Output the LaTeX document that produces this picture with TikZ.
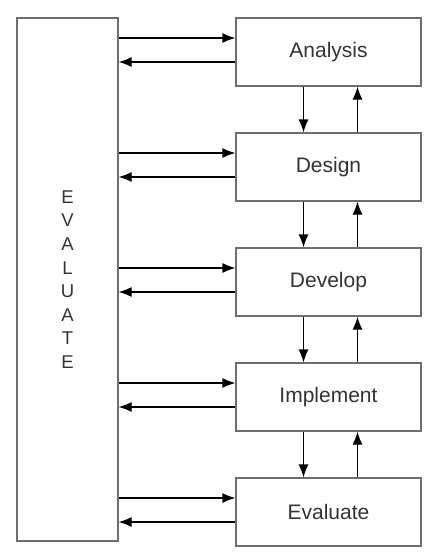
\documentclass[tikz,border=0pt]{standalone}
\usepackage{fontspec}
\setmainfont{Liberation Sans}
\usepackage{tikz}
\usetikzlibrary{arrows.meta}
\usetikzlibrary{calc}
\definecolor{linegray}{HTML}{6E6E6E}
\definecolor{textgray}{HTML}{333333}
\newcommand{\stagedistance}{115}
\tikzstyle{stage}=[
  draw=linegray,
  line width=1.2pt,
  minimum width=185pt,
  minimum height=68pt,
  inner sep=0pt,
  text=textgray,
  font=\fontsize{21}{25}\selectfont
]
\tikzstyle{flow}=[
  -{Latex[length=13pt,width=10pt]},
  line width=1.2pt
]
\newcommand{\linkstage}[1]{{
  \newcommand{\stagename}{#1}

  \draw[flow] ($(evalbox.east |- \stagename) + (0, -14)$) -- ($(\stagename.west) + (0, -14)$);
  \draw[flow] ($(\stagename.west) + (0, 10)$) -- ($(evalbox.east |- \stagename) + (0, 10)$);
}}
\newcommand{\linkdown}[2]{{
  \newcommand{\stageabove}{#1}
  \newcommand{\stagebelow}{#2}

  \draw[flow] ($(\stageabove.south) + (-25, 0)$) -- ($(\stagebelow.north) + (-25, 0)$);
  \draw[flow] ($(\stagebelow.north) + (29, 0)$) -- ($(\stageabove.south) + (29, 0)$);
}}
\begin{document}
\begin{tikzpicture}[x=1pt, y=-1pt]
      \useasboundingbox (0, 0) rectangle (440, 560);

      \node[draw=linegray, line width=1.2pt, minimum width=101pt, minimum height=523pt,
            inner sep=0pt, align=center, text=textgray,
            font=\fontsize{18.5}{23.6}\selectfont] (evalbox) at (67.5, 279.5)
            {E\\V\\A\\L\\U\\A\\T\\E};

      \node[stage] (s1) at (328.5, 52)                    {Analysis};
      \node[stage] (s2) at (328.5, 52 + \stagedistance)   {Design};
      \node[stage] (s3) at (328.5, 52 + 2*\stagedistance) {Develop};
      \node[stage] (s4) at (328.5, 52 + 3*\stagedistance) {Implement};
      \node[stage] (s5) at (328.5, 52 + 4*\stagedistance) {Evaluate};

      \linkstage{s1}
      \linkstage{s2}
      \linkstage{s3}
      \linkstage{s4}
      \linkstage{s5}

      \linkdown{s1}{s2}
      \linkdown{s2}{s3}
      \linkdown{s3}{s4}
      \linkdown{s4}{s5}
    \end{tikzpicture}
\end{document}
